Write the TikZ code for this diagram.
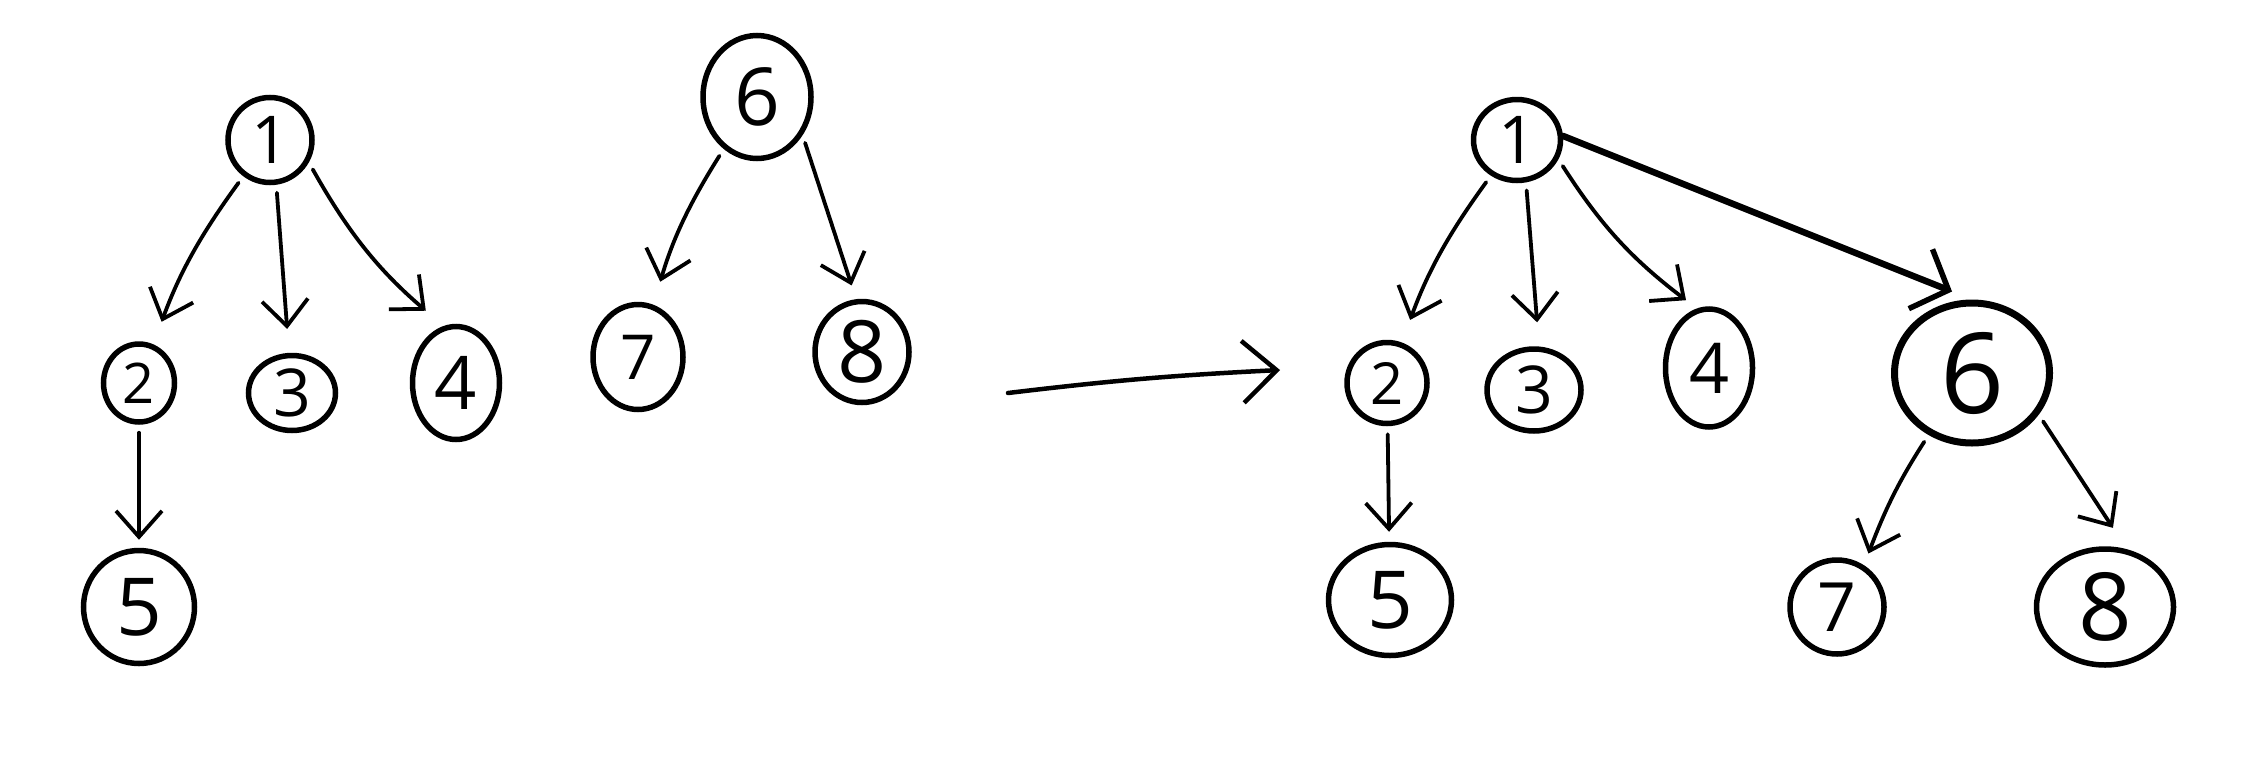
\documentclass[tikz,border=0pt]{standalone}
\usepackage{fontspec}
\setmainfont{Open Sans}[Numbers=Lining]
\usetikzlibrary{arrows.meta,shapes.geometric}
\begin{document}
\begin{tikzpicture}[x=1pt,y=-1pt,
  vtx/.style={draw, ellipse, line width=5.5pt, inner sep=0pt, font=\fontsize{70}{70}\selectfont},
  fs/.style={font=\fontsize{#1}{#1}\selectfont},
  big/.style={line width=7pt},
  arr/.style={line width=3.8pt, line cap=round, -{Straight Barb[length=26pt,width=46pt,line width=3.8pt]}, shorten <=8pt, shorten >=24pt},
  thickarr/.style={line width=6.5pt, line cap=round, -{Straight Barb[length=30pt,width=64pt,line width=5.5pt]}},
  bigarr/.style={line width=4.5pt, line cap=round, -{Straight Barb[length=34pt,width=62pt,line width=4.5pt]}},
]
\useasboundingbox (0,0) rectangle (2265,766);
% left tree
\node[vtx, fs=66, minimum width=84pt, minimum height=85pt] (a1) at (270,140) {1};
\node[vtx, fs=56, minimum width=71pt, minimum height=78pt] (a2) at (139,383) {2};
\node[vtx, fs=66, minimum width=87pt, minimum height=75pt] (a3) at (292,393) {3};
\node[vtx, fs=74, minimum width=87pt, minimum height=113pt] (a4) at (456,383) {4};
\node[vtx, fs=80, minimum width=111pt, minimum height=113pt] (a5) at (139,607) {5};
% middle tree
\node[vtx, fs=80, minimum width=108pt, minimum height=123pt] (b6) at (757,97) {6};
\node[vtx, fs=62, minimum width=90pt, minimum height=105pt] (b7) at (638,357) {7};
\node[vtx, fs=86, minimum width=94pt, minimum height=101pt] (b8) at (862,352) {8};
% right tree
\node[vtx, fs=66, minimum width=87pt, minimum height=81pt] (c1) at (1517,140) {1};
\node[vtx, fs=58, minimum width=80pt, minimum height=81pt] (c2) at (1387,383) {2};
\node[vtx, fs=66, minimum width=94pt, minimum height=82pt] (c3) at (1534,390) {3};
\node[vtx, fs=70, minimum width=87pt, minimum height=118pt] (c4) at (1709,368) {4};
\node[vtx, big, fs=112, minimum width=155pt, minimum height=140pt] (c6) at (1972,373) {6};
\node[vtx, fs=80, minimum width=123pt, minimum height=111pt] (c5) at (1390,600) {5};
\node[vtx, fs=68, minimum width=94pt, minimum height=94pt] (c7) at (1837,607) {7};
\node[vtx, fs=94, minimum width=137pt, minimum height=116pt] (c8) at (2105,607) {8};
% left edges
\draw[arr] (a1) to[bend right=8] (a2);
\draw[arr] (a1.-82) -- (a3);
\draw[arr, shorten >=20pt] (a1.-30) to[bend right=10] ([xshift=-15pt]a4.north);
\draw[arr, shorten >=8pt] (a2) -- (a5);
\draw[arr] (b6) to[bend right=8] (b7);
\draw[arr, shorten >=14pt] (b6.-40) -- ([xshift=-6pt]b8.north);
% big arrow
\coordinate (p) at (1008,393);
\coordinate (q) at (1280,370);
\draw[bigarr] (p) to[bend left=2] (q);
% right edges
\draw[arr] (c1) to[bend right=8] (c2);
\draw[arr] (c1.-78) -- ([xshift=5pt]c3.north);
\draw[arr, shorten >=10pt] (c1.-25) to[bend right=10] ([xshift=-15pt]c4.north);
\draw[thickarr] (c1.5) -- ([xshift=-20pt,yshift=8pt]c6.north);
\draw[arr, shorten >=10pt] (c2) -- (c5);
\draw[arr, shorten >=4pt] (c6.-125) to[bend right=6] ([xshift=30pt]c7.north);
\draw[arr, shorten >=22pt] (c6.-32) -- ([xshift=20pt]c8.north);
\end{tikzpicture}
\end{document}
